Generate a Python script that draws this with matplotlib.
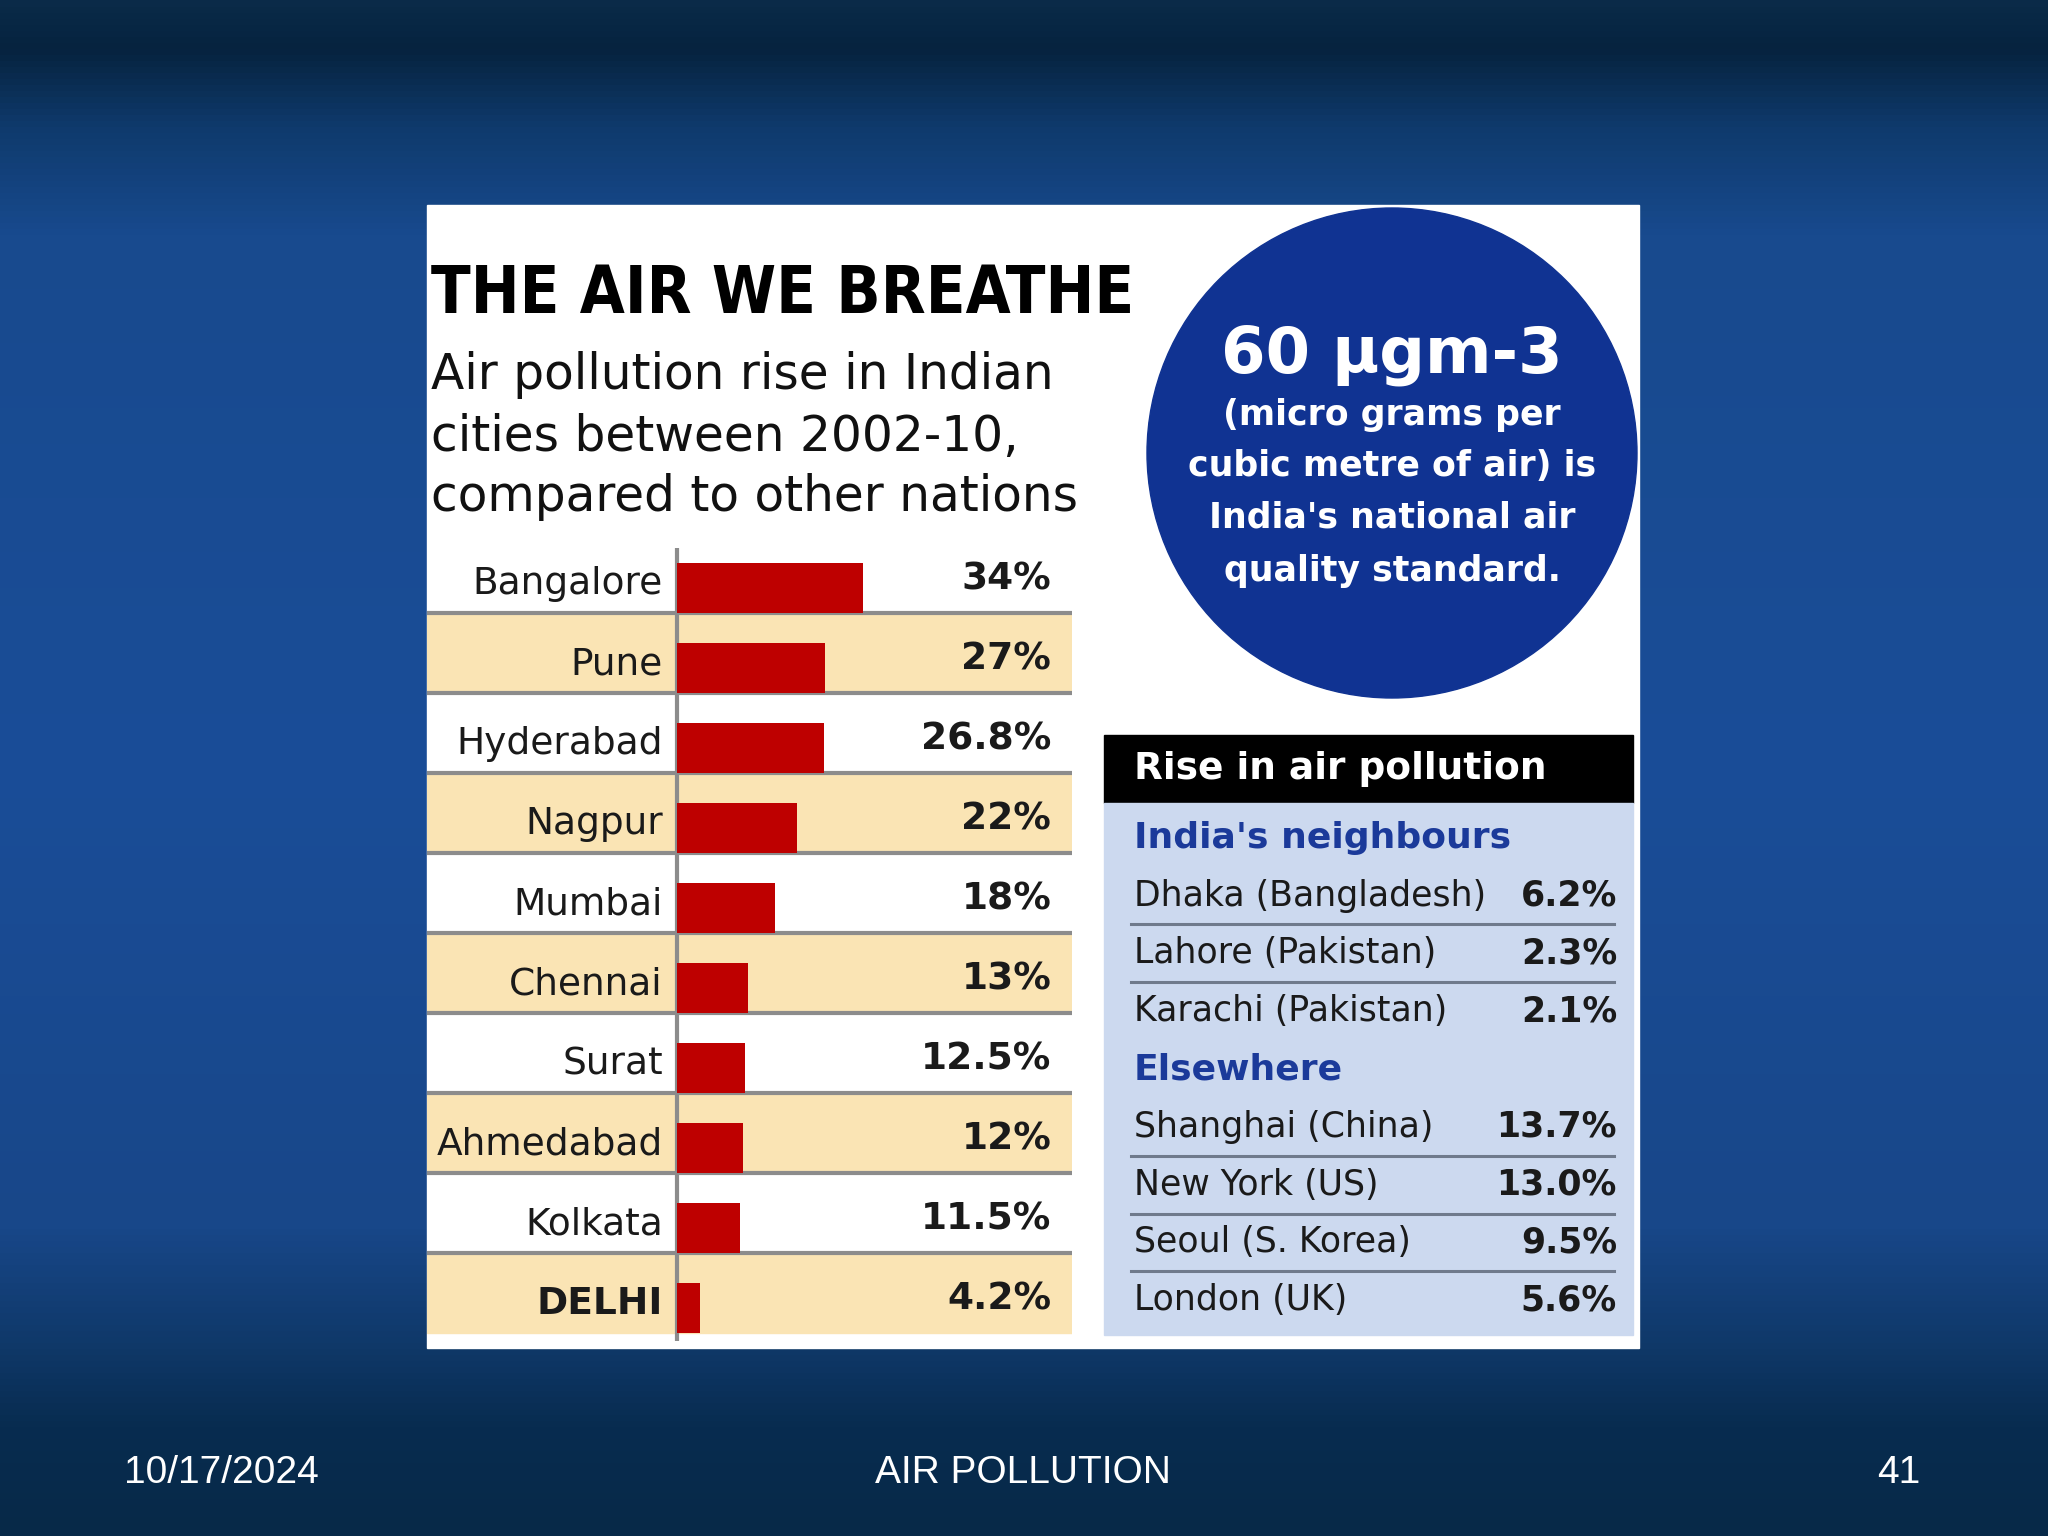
import numpy as np
import matplotlib
matplotlib.use("Agg")
import matplotlib.pyplot as plt
from matplotlib import font_manager
from matplotlib.colors import LinearSegmentedColormap
from matplotlib.patches import Rectangle, Circle

# Indian cities: rise in air pollution 2002-10 (%)
cities = ["Bangalore", "Pune", "Hyderabad", "Nagpur", "Mumbai",
          "Chennai", "Surat", "Ahmedabad", "Kolkata", "DELHI"]
city_rise = [34, 27, 26.8, 22, 18, 13, 12.5, 12, 11.5, 4.2]
city_labels = ["34%", "27%", "26.8%", "22%", "18%",
               "13%", "12.5%", "12%", "11.5%", "4.2%"]

# other nations
neighbours = ["Dhaka (Bangladesh)", "Lahore (Pakistan)", "Karachi (Pakistan)"]
neighbour_rise = [6.2, 2.3, 2.1]
elsewhere = ["Shanghai (China)", "New York (US)", "Seoul (S. Korea)", "London (UK)"]
elsewhere_rise = [13.7, 13.0, 9.5, 5.6]

W, H = 2048, 1536
BAR_RED = "#BE0000"
BEIGE = "#FAE4B4"
GRID = "#8C8C8C"
NAVY = "#103392"


def fig_rect(left, top, right, bottom):
    # pixel box -> figure fraction
    return [left / W, 1 - bottom / H, (right - left) / W, (bottom - top) / H]


def narrow_bold_font():
    # look for any condensed / narrow bold face for the headline
    for f in font_manager.fontManager.ttflist:
        narrow = "Narrow" in f.name or "Condensed" in f.name or "condensed" in str(f.stretch)
        if narrow and f.weight in ("bold", 700) and f.style == "normal":
            return font_manager.FontProperties(fname=f.fname)
    return font_manager.FontProperties(family="DejaVu Sans", weight="bold")


fig = plt.figure(figsize=(W / 100, H / 100), dpi=100)

# slide background
bg = fig.add_axes([0, 0, 1, 1])
bg_cmap = LinearSegmentedColormap.from_list("slide", [
    (0.0, "#0a2a48"), (0.03, "#06233f"), (0.08, "#0f3a6c"),
    (0.15, "#184a8e"), (0.5, "#1a4d98"), (0.8, "#184789"),
    (0.88, "#0f3868"), (0.93, "#082c50"), (1.0, "#072948")])
bg.imshow(np.linspace(0, 1, 512).reshape(-1, 1), cmap=bg_cmap, aspect="auto",
          extent=(0, W, H, 0))
bg.set_xlim(0, W)
bg.set_ylim(H, 0)
bg.axis("off")

# white panel
bg.add_patch(Rectangle((427, 205), 1212, 1143, color="white", zorder=2))

title_fp = narrow_bold_font()
title_fp.set_size(60)
title = bg.text(431, 313, "THE AIR WE BREATHE", fontproperties=title_fp,
                color="black", va="baseline", ha="left", zorder=3)
fig.canvas.draw()
tw = title.get_window_extent(fig.canvas.get_renderer()).width
title_fp.set_size(60 * 703 / tw)
title.set_fontproperties(title_fp)

for y, line in zip([389, 451, 511], ["Air pollution rise in Indian",
                                     "cities between 2002-10,",
                                     "compared to other nations"]):
    bg.text(431, y, line, fontsize=35, color="#111111", va="baseline",
            ha="left", zorder=3)

# circle with the standard
bg.add_patch(Circle((1392, 453), 245, color=NAVY, zorder=3))
bg.text(1392, 355, "60 µgm-3", fontsize=46, fontweight="bold", color="white",
        ha="center", va="center", zorder=4)
for y, line in zip([415, 466, 518, 571], ["(micro grams per",
                                          "cubic metre of air) is",
                                          "India's national air",
                                          "quality standard."]):
    bg.text(1392, y, line, fontsize=25, fontweight="bold", color="white",
            ha="center", va="center", zorder=4)

# right table boxes
bg.add_patch(Rectangle((1104, 735), 529, 68, color="black", zorder=3))
bg.add_patch(Rectangle((1104, 803), 529, 532, color="#CCD9EF", zorder=3))
bg.text(1134, 769, "Rise in air pollution", fontsize=27, fontweight="bold",
        color="white", ha="left", va="center", zorder=4)

# footer
for x, s, ha in [(124, "10/17/2024", "left"), (1023, "AIR POLLUTION", "center"),
                 (1920, "41", "right")]:
    bg.text(x, 1473, s, fontsize=28, family=["Liberation Sans", "DejaVu Sans"],
            color="white", ha=ha, va="center", zorder=4)

# bar chart
ax = fig.add_axes(fig_rect(427, 533, 1072, 1341))
ax.set_xlim(-45.7, 72.2)
ax.set_ylim(9.6, -0.5)
ax.axis("off")
rows = np.arange(len(cities))
for i in rows:
    if i % 2 == 1:
        ax.axhspan(i - 0.5, min(i + 0.5, 9.6), color=BEIGE, zorder=0)
for i in rows[:-1]:
    ax.axhline(i + 0.5, color=GRID, lw=3, zorder=1)
ax.vlines(0, -0.31, 9.6, color=GRID, lw=3, zorder=1)
ax.barh(rows + 0.1875, city_rise, height=0.625, color=BAR_RED, zorder=2)
for i, (name, lab) in enumerate(zip(cities, city_labels)):
    ax.text(-2.6, i + 0.14, name, fontsize=27, ha="right", va="center",
            color="#1a1a1a", fontweight="bold" if name == "DELHI" else "normal")
    ax.text(68.4, i + 0.075, lab, fontsize=27, fontweight="bold", ha="right",
            va="center", color="#1a1a1a")

# table of other cities
tx = fig.add_axes(fig_rect(1104, 803, 1633, 1335))
tx.set_xlim(0, 529)
tx.set_ylim(8.6, -0.6)
tx.axis("off")
table_rows = [("India's neighbours", None)]
table_rows += list(zip(neighbours, neighbour_rise))
table_rows += [("Elsewhere", None)]
table_rows += list(zip(elsewhere, elsewhere_rise))
for k, (name, val) in enumerate(table_rows):
    if val is None:
        tx.text(30, k, name, fontsize=26, fontweight="bold", color="#1B3A9A",
                ha="left", va="center")
    else:
        tx.text(30, k, name, fontsize=25, color="#1a1a1a", ha="left", va="center")
        tx.text(513, k, f"{val:.1f}%", fontsize=25, fontweight="bold",
                color="#1a1a1a", ha="right", va="center")
for k in [1.5, 2.5, 5.5, 6.5, 7.5]:
    tx.plot([27, 510], [k, k], color="#6F7A8C", lw=2.2)

fig.savefig("out.png", dpi=100)
